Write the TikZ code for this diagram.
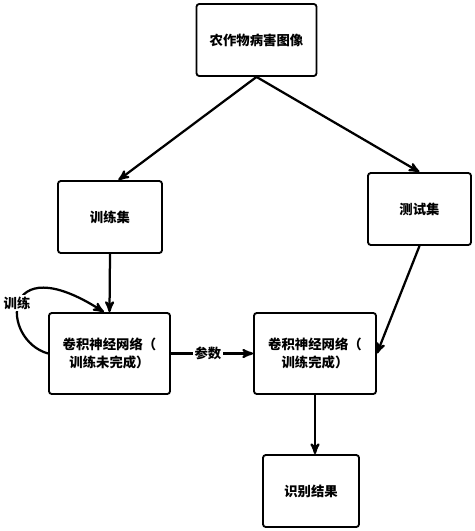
\documentclass[tikz,border=0pt]{standalone}
\usepackage{fontspec}
\setmainfont{Noto Sans CJK SC}
\usepackage{tikz}
\usetikzlibrary{
        arrows,
        positioning,
        shapes
    }
\tikzset{>=stealth'}
\tikzset{box/.style={draw,rounded corners=2pt,line width=1.3pt,align=center,
        font=\fontsize{9.5}{13}\selectfont\bfseries}}
\tikzset{lab/.style={fill=white,inner sep=1pt,font=\fontsize{9.5}{12}\selectfont\bfseries}}

\begin{document}
\begin{tikzpicture}[x=0.025cm,y=-0.025cm]
    \useasboundingbox (0,0) rectangle (474,531);
        \node[box,minimum width=3.0cm,minimum height=1.8cm] (img)   at (256.5,40)  {农作物病害图像};
        \node[box,minimum width=2.6cm,minimum height=1.8cm] (train) at (110,217)   {训练集};
        \node[box,minimum width=2.575cm,minimum height=1.8cm] (test)  at (419.5,209) {测试集};
        \node[box,minimum width=3.025cm,minimum height=2.025cm] (cnna) at (109.5,353.5) {卷积神经网络（\\训练未完成）};
        \node[box,minimum width=3.05cm,minimum height=2.025cm] (cnnb)  at (315,353.5) {卷积神经网络（\\训练完成）};
        \node[box,minimum width=2.4cm,minimum height=1.8cm] (res)   at (311,491)   {识别结果};
    \path[->,line width=1.6pt]
            (img.south)   edge ([xshift=6]train.north)
            (img.south)   edge (test.north)
            (train.south) edge (cnna.north)
            (test.south)  edge (cnnb.east)
            (cnnb.south)  edge (cnnb.south |- res.north)
            ;
    \draw[->,line width=1.6pt] (cnna.west) .. controls (0,340) and (0,245) .. ([xshift=-4]cnna.north);
    \node[lab] (lbl) at (17,303) {训练};
    \draw[->,line width=1.6pt] (cnna.east) -- node[lab,pos=0.45] (par) {参数} (cnnb.west);
\end{tikzpicture}
\end{document}
